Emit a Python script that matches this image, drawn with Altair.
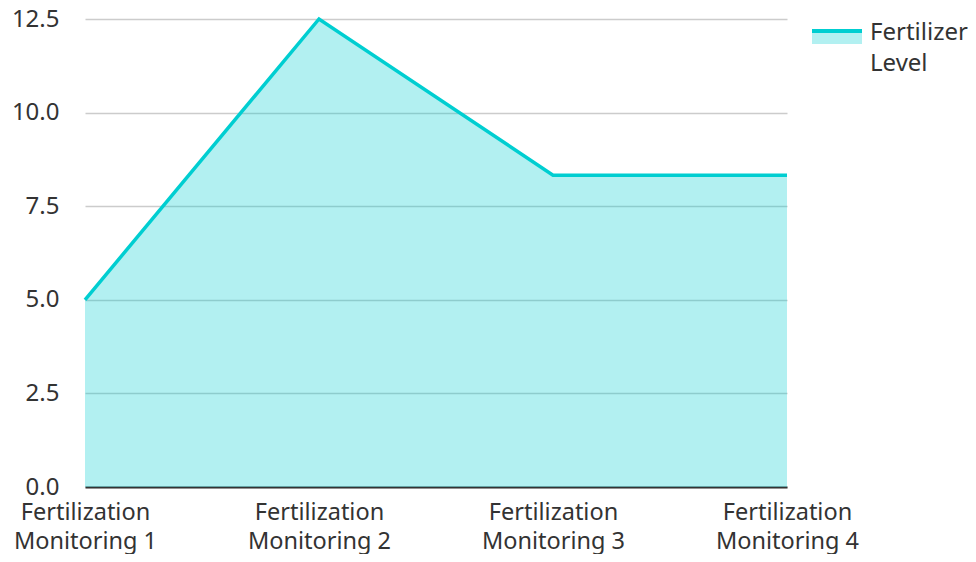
import altair as alt
import pandas as pd

categories = ["Fertilization Monitoring 1", "Fertilization Monitoring 2",
              "Fertilization Monitoring 3", "Fertilization Monitoring 4"]
values = [5.0, 12.5, 8.33, 8.33]
series_name = "Fertilizer Level"
y_ticks = [0, 2.5, 5, 7.5, 10, 12.5]

COLOR = "#00CED1"
FONT = "Noto Sans"
FS = 24

df = pd.DataFrame({"stage": categories, "level": values})

x_enc = alt.X("stage:N", sort=categories, title=None,
              scale=alt.Scale(padding=0),
              axis=alt.Axis(labelAngle=0, labelFontSize=23.5, labelColor="#333333",
                            labelFont=FONT, labelPadding=13, labelLineHeight=29,
                            labelOverlap=False, labelBound=False,
                            labelExpr="[substring(datum.label, 0, indexof(datum.label, ' ')), substring(datum.label, indexof(datum.label, ' ') + 1)]",
                            ticks=False, domainColor="#333333", domainWidth=2,
                            grid=False))
y_enc = alt.Y("level:Q", title=None,
              scale=alt.Scale(domain=[0, 12.5], nice=False),
              axis=alt.Axis(values=y_ticks, format=".1f", labelFontSize=FS,
                            labelFont=FONT, labelColor="#333333", labelPadding=26,
                            ticks=False, domain=False, gridColor="#cccccc",
                            gridWidth=1.5))

base = alt.Chart(df)
area = base.mark_area(color=COLOR, opacity=0.3).encode(x=x_enc, y=y_enc)
line = base.mark_line(color=COLOR, strokeWidth=3.5).encode(x=x_enc, y=y_enc)

leg = pd.DataFrame({"name": [series_name]})
leg_fill = alt.Chart(leg).mark_rect(color=COLOR, opacity=0.3).encode(
    x=alt.value(727), x2=alt.value(777), y=alt.value(13), y2=alt.value(25))
leg_line = alt.Chart(leg).mark_rule(color=COLOR, strokeWidth=4).encode(
    x=alt.value(727), x2=alt.value(777), y=alt.value(12))
leg_text = alt.Chart(leg).mark_text(
    align="left", baseline="alphabetic", font=FONT, fontSize=FS, color="#333333",
    lineHeight=31, clip=False).encode(
    x=alt.value(785), y=alt.value(21),
    text=alt.Text("lines:N")).transform_calculate(
    lines="split(datum.name, ' ')")

chart = alt.layer(area, line, leg_fill, leg_line, leg_text).properties(
    width=702, height=468,
    autosize=alt.AutoSizeParams(type="none"),
    padding={"left": 77, "top": 11, "right": 181, "bottom": 67},
).configure(font=FONT).configure_view(strokeWidth=0, stroke=None)

chart.save("out.html", embed_options={"renderer": "svg", "actions": False})
